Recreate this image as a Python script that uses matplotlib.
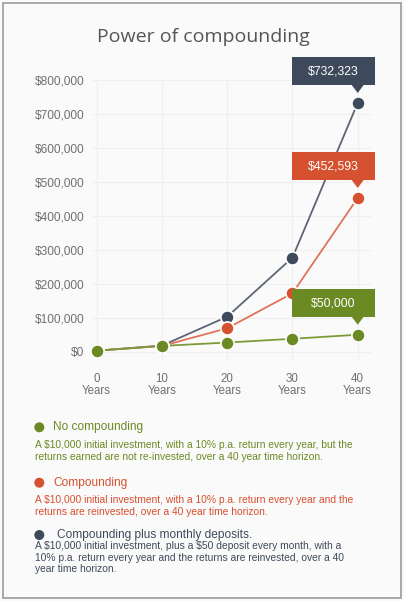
import matplotlib.pyplot as plt
from matplotlib.patches import Rectangle, Polygon, Circle
from matplotlib.transforms import ScaledTranslation

# data
years = [0, 10, 20, 30, 40]
year_labels = ["0\nYears", "10\nYears", "20\nYears", "30\nYears", "40\nYears"]
no_compounding = [3000, 17000, 27000, 38000, 50000]
compounding = [3000, 17000, 69000, 172000, 452593]
with_deposits = [3000, 18000, 103000, 277000, 732323]
yticks = [0, 100000, 200000, 300000, 400000, 500000, 600000, 700000, 800000]

green, red, navy = "#6b8a24", "#d5512f", "#3e4a5b"
line_cols = {"g": "#7d9b3a", "r": "#e0735a", "n": "#5c6676"}

W, H = 404, 601
plt.rcParams['font.family'] = ['Liberation Sans', 'DejaVu Sans']
fig = plt.figure(figsize=(W / 100, H / 100), dpi=100)
fig.patch.set_facecolor("#fbfafa")


def fx(x):
    return x / W


def fy(y):
    return 1 - y / H


# outer border
fig.patches.append(Rectangle((fx(3), fy(598)), fx(398), 595 / H, transform=fig.transFigure,
                             fill=False, edgecolor="#9a9a9a", linewidth=1.2))

fig.text(fx(203), fy(37), "Power of compounding", ha="center", va="center",
         fontsize=14, color="#555555", family=["Open Sans", "DejaVu Sans"])

# axes: x=0 at 96.7px, x=40 at 357.7px; y=0 at 351.7px, y=800k at 80px
pxx = (357.7 - 96.7) / 40
pxy = (351.7 - 80) / 800000
x0, x1 = -0.6, 42
y0, y1 = -25000, 800000
left = 96.7 + x0 * pxx
right = 96.7 + x1 * pxx
top = 351.7 - y1 * pxy
bottom = 351.7 - y0 * pxy
ax = fig.add_axes([fx(left), fy(bottom), fx(right - left), (bottom - top) / H])
ax.set_facecolor("none")
ax.set_xlim(x0, x1)
ax.set_ylim(y0, y1)
for s in ax.spines.values():
    s.set_visible(False)
ax.set_xticks(years)
ax.set_xticklabels(year_labels, fontsize=8.3, color="#707070", linespacing=1.0)
ax.set_yticks(yticks)
ax.set_yticklabels([f"${v:,.0f}" for v in yticks], fontsize=8.6, color="#707070")
ax.tick_params(axis="y", length=0, pad=6)
ax.tick_params(axis="x", length=0, pad=9)
ax.grid(True, color="#efefef", linewidth=0.8)
ax.set_axisbelow(True)

series = [(with_deposits, navy, line_cols["n"]),
          (compounding, red, line_cols["r"]),
          (no_compounding, green, line_cols["g"])]
for vals, c, lc in series:
    ax.plot(years, vals, color=lc, linewidth=1.3, zorder=2, clip_on=False)
    ax.plot(years, vals, "o", color=c, markersize=9.5, markeredgecolor="white",
            markeredgewidth=1.2, zorder=3, clip_on=False)

# value tags above the last point
for vals, c, lc in series:
    tr = fig.dpi_scale_trans + ScaledTranslation(years[-1], vals[-1], ax.transData)
    ax.add_patch(Rectangle((-0.66, 0.175), 0.833, 0.28, transform=tr, facecolor=c,
                           edgecolor="none", clip_on=False, zorder=4))
    ax.add_patch(Polygon([(-0.06, 0.18), (0.06, 0.18), (0.0, 0.10)], closed=True,
                         transform=tr, facecolor=c, edgecolor="none", clip_on=False, zorder=4))
    ax.text(-0.2435, 0.315, f"${vals[-1]:,.0f}", transform=tr, ha="center", va="center",
            color="white", fontsize=8.8, zorder=5)

# legend notes
notes = [
    (427.3, 53.3, green, "No compounding",
     [445, 456.7],
     ["A \\$10,000 initial investment, with a 10% p.a. return every year, but the",
      "returns earned are not re-invested, over a 40 year time horizon."]),
    (482.7, 53.3, red, "Compounding",
     [500, 511.7],
     ["A \\$10,000 initial investment, with a 10% p.a. return every year and the",
      "returns are reinvested, over a 40 year time horizon."]),
    (535, 56.7, navy, "Compounding plus monthly deposits.",
     [546, 557.7, 569.4],
     ["A \\$10,000 initial investment, plus a \\$50 deposit every month, with a",
      "10% p.a. return every year and the returns are reinvested, over a 40",
      "year time horizon."]),
]
for yh, xh, c, head, ys, lines in notes:
    fig.patches.append(Circle((39.3 / 100, (H - yh) / 100), 0.05,
                              transform=fig.dpi_scale_trans, facecolor=c, edgecolor="none"))
    fig.text(fx(xh), fy(yh), head, ha="left", va="center", fontsize=8.6, color=c)
    for yl, txt in zip(ys, lines):
        fig.text(fx(34.7), fy(yl), txt, ha="left", va="center", fontsize=7.4, color=c)

fig.savefig("out.png", dpi=100, facecolor=fig.get_facecolor())
